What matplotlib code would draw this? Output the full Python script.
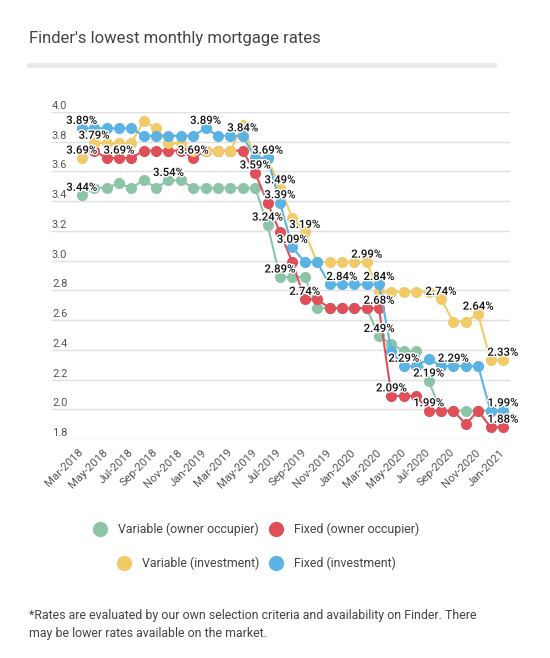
import numpy as np
import pandas as pd
import matplotlib
matplotlib.use('Agg')
import matplotlib.pyplot as plt
import matplotlib.patheffects as pe
from matplotlib.lines import Line2D
from matplotlib.transforms import blended_transform_factory, offset_copy

plt.rcParams['font.family'] = ['Roboto', 'DejaVu Sans']

# monthly categories, Mar-2018 .. Jan-2021
months = pd.date_range('2018-03-01', periods=35, freq='MS').strftime('%b-%Y').tolist()

var_owner = [3.44, 3.49, 3.49, 3.52, 3.49, 3.54, 3.49, 3.54, 3.54, 3.49,
             3.49, 3.49, 3.49, 3.49, 3.49, 3.24, 2.89, 2.89, 2.89, 2.68,
             2.68, 2.68, 2.68, 2.68, 2.49, 2.44, 2.39, 2.39, 2.19, 1.99,
             1.99, 1.99, 1.99, 1.99, 1.99]
fix_owner = [3.74, 3.74, 3.69, 3.69, 3.69, 3.74, 3.74, 3.74, 3.74, 3.69,
             3.74, 3.74, 3.74, 3.74, 3.59, 3.39, 3.19, 2.99, 2.74, 2.74,
             2.68, 2.68, 2.68, 2.68, 2.68, 2.09, 2.09, 2.09, 1.99, 1.99,
             1.99, 1.90, 1.99, 1.88, 1.88]
var_invest = [3.69, 3.79, 3.79, 3.79, 3.79, 3.94, 3.89, 3.79, 3.79, 3.74,
              3.74, 3.74, 3.74, 3.91, 3.69, 3.69, 3.49, 3.29, 3.19, 2.99,
              2.99, 2.99, 2.99, 2.99, 2.79, 2.79, 2.79, 2.79, 2.79, 2.74,
              2.59, 2.59, 2.64, 2.33, 2.33]
fix_invest = [3.89, 3.89, 3.89, 3.89, 3.89, 3.84, 3.84, 3.84, 3.84, 3.84,
              3.89, 3.84, 3.84, 3.84, 3.69, 3.69, 3.39, 3.09, 2.99, 2.99,
              2.84, 2.84, 2.84, 2.84, 2.84, 2.39, 2.29, 2.29, 2.34, 2.29,
              2.29, 2.29, 2.29, 1.99, 1.99]

series = [var_owner, fix_owner, var_invest, fix_invest]
names = ['Variable (owner occupier)', 'Fixed (owner occupier)',
         'Variable (investment)', 'Fixed (investment)']
colors = ['#8dc4a7', '#de4f59', '#f2cb69', '#5bb3e3']

# which points carry a value label: (series index, month index)
labelled = [(2, 0), (3, 0), (2, 1), (1, 3), (0, 0), (0, 7), (3, 10), (1, 9),
            (3, 13), (3, 15), (1, 14), (2, 16), (3, 16), (0, 15), (2, 18),
            (3, 17), (0, 16), (2, 23), (3, 21), (3, 24), (1, 18), (1, 24),
            (2, 29), (0, 24), (2, 32), (3, 26), (3, 30), (2, 34), (0, 28),
            (1, 25), (1, 28), (3, 34), (1, 34)]

W, H = 550, 658
fig = plt.figure(figsize=(W / 100, H / 100), dpi=100)
ax = fig.add_axes([52 / W, 1 - 439 / H, 458 / W, 327 / H])

x = np.arange(len(months))
for z, (vals, c) in enumerate(zip(series, colors)):
    ax.plot(x, vals, color=c, lw=1.5, marker='o', ms=8, mec='none',
            clip_on=False, zorder=3 + z)

for k, i in labelled:
    v = series[k][i]
    ax.annotate(f'{v:.2f}%', (i, v), xytext=(0, 3.2), textcoords='offset points',
                ha='center', va='baseline', fontsize=8.2, fontweight='medium',
                color='#111111', zorder=10,
                path_effects=[pe.withStroke(linewidth=2, foreground='white')])

ax.set_xlim(-2.4, 34.57)
ax.set_ylim(1.8, 4.0)
yticks = np.round(np.arange(1.8, 4.01, 0.2), 1)
ax.set_yticks(yticks)
ax.grid(axis='y', color='#e0e0e0', lw=1)
ax.set_axisbelow(True)
ax.tick_params(axis='y', length=0, labelleft=False)
for s in ax.spines.values():
    s.set_visible(False)

trans = offset_copy(blended_transform_factory(ax.transAxes, ax.transData),
                    fig=fig, x=0, y=3, units='dots')
for t in yticks:
    ax.text(0, t, f'{t:.1f}', transform=trans, ha='left', va='baseline',
            fontsize=8, color='#555555')

ax.set_xticks(x[::2])
ax.set_xticklabels(months[::2], rotation=45, ha='right', va='center',
                   rotation_mode='anchor', fontsize=8.2, color='#555555')
ax.tick_params(axis='x', length=0, pad=8.5)

# title and rule
fig.text(29 / W, 1 - 39 / H, "Finder's lowest monthly mortgage rates",
         fontsize=12, color='#444444', va='center')
fig.add_artist(Line2D([29 / W, 494 / W], [1 - 64.5 / H] * 2, lw=3.3,
                      color='#e8e8e8'))

# legend, first column right aligned, second left aligned
rows = [529.3, 563.3]
fig.canvas.draw()
r = fig.canvas.get_renderer()
for n, (name, c) in enumerate(zip(names, colors)):
    yy = 1 - rows[n // 2] / H
    if n % 2 == 0:
        t = fig.text(259 / W, yy, name, ha='right', va='center',
                     fontsize=8.9, color='#444444')
        bb = t.get_window_extent(renderer=r)
        mx = (bb.x0 - 18) / W
    else:
        fig.text(294 / W, yy, name, ha='left', va='center',
                 fontsize=8.9, color='#444444')
        mx = 276 / W
    fig.add_artist(Line2D([mx], [yy], marker='o', ms=11, color=c, mec='none'))

fig.text(29 / W, 1 - 615 / H,
         '*Rates are evaluated by our own selection criteria and availability on Finder. There',
         fontsize=8.9, color='#444444', va='center')
fig.text(29 / W, 1 - 634 / H, 'may be lower rates available on the market.',
         fontsize=8.9, color='#444444', va='center')

fig.savefig('out.png', dpi=100)
